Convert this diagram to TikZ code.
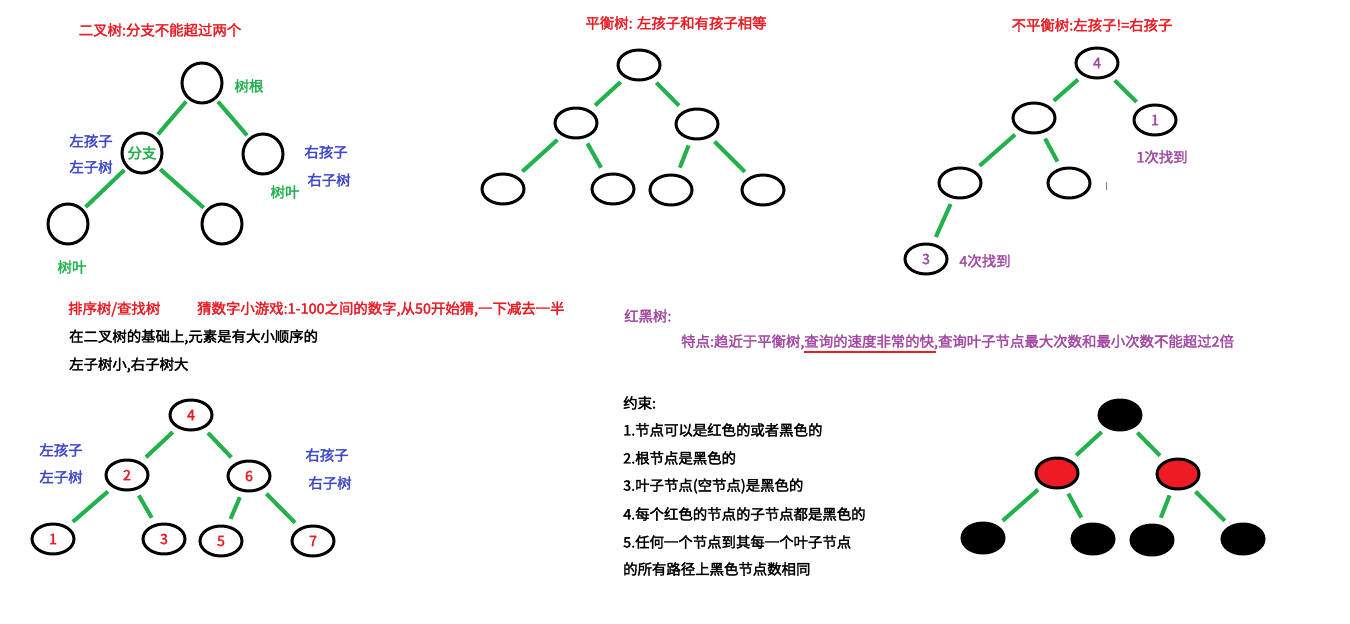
\documentclass[tikz,border=0pt]{standalone}
\usepackage{fontspec}
\setmainfont{Noto Sans CJK SC}[FakeBold=2.2]
\usetikzlibrary{shapes.geometric}
\definecolor{pred}{RGB}{237,28,36}
\definecolor{pgreen}{RGB}{34,177,76}
\definecolor{pblue}{RGB}{63,72,204}
\definecolor{ppurple}{RGB}{163,73,164}
\begin{document}
\begin{tikzpicture}[x=1pt,y=-1pt,
  txt/.style={font=\fontsize{14.4}{16}\selectfont, inner sep=0pt},
  lw/.style={txt, anchor=west},
  circ/.style={draw, circle, line width=3pt, inner sep=0pt, minimum size=40pt, font=\fontsize{14.4}{16}\selectfont},
  ell/.style={draw, ellipse, line width=3pt, inner sep=0pt, minimum width=42pt, minimum height=30pt, font=\fontsize{14.4}{16}\selectfont},
  rbblack/.style={ell, fill=black},
  rbred/.style={ell, fill=pred},
  edge/.style={pgreen, line width=4pt, shorten >=3pt, shorten <=3pt},
  eedge/.style={pgreen, line width=4pt, shorten >=7pt, shorten <=6pt}
]
\useasboundingbox (0,0) rectangle (1350,624);
\fill[white] (0,0) rectangle (1350,624);

% ---------- top-left: binary tree ----------
\node[txt, pred] (t1) at (160,30) {二叉树:分支不能超过两个};
\node[circ] (a1) at (202,83) {};
\node[circ, text=pgreen] (a2) at (142,153) {分支};
\node[circ] (a3) at (263,154) {};
\node[circ] (a4) at (68,224) {};
\node[circ] (a5) at (222,224) {};
\draw[edge] (a1) -- (a2);
\draw[edge] (a1) -- (a3);
\draw[edge] (a2) -- (a4);
\draw[edge] (a2) -- (a5);
\node[txt, pgreen] (a1l) at (249,86) {树根};
\node[txt, pblue] (a2l1) at (91,141) {左孩子};
\node[txt, pblue] (a2l2) at (91,167) {左子树};
\node[txt, pblue] (a3l1) at (326,152) {右孩子};
\node[txt, pblue] (a3l2) at (329,180) {右子树};
\node[txt, pgreen] (a3l3) at (285,192) {树叶};
\node[txt, pgreen] (a4l) at (72,267) {树叶};

% ---------- top-middle: balanced tree ----------
\node[txt, pred] (t2) at (676,23) {平衡树: 左孩子和有孩子相等};
\node[ell] (b1) at (639,65) {};
\node[ell] (b2) at (576,123) {};
\node[ell] (b3) at (697,124) {};
\node[ell] (b4) at (503,189) {};
\node[ell] (b5) at (613,189) {};
\node[ell] (b6) at (671,190) {};
\node[ell] (b7) at (763,190) {};
\draw[eedge] (b1) -- (b2);
\draw[eedge] (b1) -- (b3);
\draw[eedge] (b2) -- (b4);
\draw[eedge] (b2) -- (b5);
\draw[eedge] (b3) -- (b6);
\draw[eedge] (b3) -- (b7);

% ---------- top-right: unbalanced tree ----------
\node[txt, pred] (t3) at (1092,25) {不平衡树:左孩子!=右孩子};
\node[ell, text=ppurple] (c1) at (1097,63) {4};
\node[ell] (c2) at (1034,118) {};
\node[ell, text=ppurple] (c3) at (1155,120) {1};
\node[ell] (c4) at (960,183) {};
\node[ell] (c5) at (1069,183) {};
\node[ell, text=ppurple] (c6) at (926,259) {3};
\draw[eedge] (c1) -- (c2);
\draw[eedge] (c1) -- (c3);
\draw[eedge] (c2) -- (c4);
\draw[eedge] (c2) -- (c5);
\draw[eedge] (c4) -- (c6);
\node[txt, ppurple] (c3l) at (1162,157) {1次找到};
\node[txt, ppurple] (c6l) at (985,261) {4次找到};
\draw[gray, line width=1pt] (1106,182) -- (1106,190);

% ---------- bottom-left: sorted tree ----------
\node[lw, pred] (s1) at (68,309) {排序树/查找树};
\node[lw, pred] (s2) at (197,309) {猜数字小游戏:1-100之间的数字,从50开始猜,一下减去一半};
\node[lw] (s3) at (69,337) {在二叉树的基础上,元素是有大小顺序的};
\node[lw] (s4) at (69,365) {左子树小,右子树大};
\node[ell, text=pred] (d4) at (191,415) {4};
\node[ell, text=pred] (d2) at (127,475) {2};
\node[ell, text=pred] (d6) at (249,476) {6};
\node[ell, text=pred] (d1) at (53,539) {1};
\node[ell, text=pred] (d3) at (164,539) {3};
\node[ell, text=pred] (d5) at (221,541) {5};
\node[ell, text=pred] (d7) at (313,541) {7};
\draw[eedge] (d4) -- (d2);
\draw[eedge] (d4) -- (d6);
\draw[eedge] (d2) -- (d1);
\draw[eedge] (d2) -- (d3);
\draw[eedge] (d6) -- (d5);
\draw[eedge] (d6) -- (d7);
\node[txt, pblue] (dl1) at (61,450) {左孩子};
\node[txt, pblue] (dl2) at (61,477) {左子树};
\node[txt, pblue] (dl3) at (327,455) {右孩子};
\node[txt, pblue] (dl4) at (330,483) {右子树};

% ---------- bottom-right: red-black tree ----------
\node[lw, ppurple] (r0) at (624,316) {红黑树:};
\node[lw, ppurple] (r1) at (681,342) {特点:趋近于平衡树,查询的速度非常的快,查询叶子节点最大次数和最小次数不能超过2倍};
\coordinate (u1) at (804,352);
\coordinate (u2) at (936,352);
\draw[pred, line width=2.5pt] (u1) -- (u2);
\node[lw] (k0) at (623,403) {约束:};
\node[lw] (k1) at (623,430) {1.节点可以是红色的或者黑色的};
\node[lw] (k2) at (623,458) {2.根节点是黑色的};
\node[lw] (k3) at (623,486) {3.叶子节点(空节点)是黑色的};
\node[lw] (k4) at (623,514) {4.每个红色的节点的子节点都是黑色的};
\node[lw] (k5) at (623,542) {5.任何一个节点到其每一个叶子节点};
\node[lw] (k6) at (623,569) {的所有路径上黑色节点数相同};

\node[rbblack] (e1) at (1120,415) {};
\node[rbred] (e2) at (1057,473) {};
\node[rbred] (e3) at (1178,474) {};
\node[rbblack] (e4) at (983,538) {};
\node[rbblack] (e5) at (1093,539) {};
\node[rbblack] (e6) at (1152,540) {};
\node[rbblack] (e7) at (1243,539) {};
\draw[eedge] (e1) -- (e2);
\draw[eedge] (e1) -- (e3);
\draw[eedge] (e2) -- (e4);
\draw[eedge] (e2) -- (e5);
\draw[eedge] (e3) -- (e6);
\draw[eedge] (e3) -- (e7);
\end{tikzpicture}
\end{document}
